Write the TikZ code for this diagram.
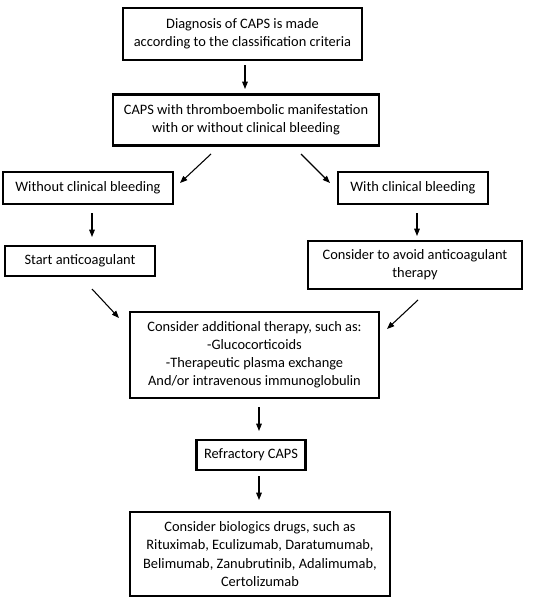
\documentclass[tikz,border=0pt]{standalone}
\usepackage{fontspec}
\setmainfont{Carlito}
\usetikzlibrary{arrows.meta}

\tikzset{every picture/.style={line width=0.75pt}}
\tikzset{capsbox/.style={draw, line width=2.1pt, align=center, font=\fontsize{10.8}{13.6}\selectfont, inner sep=2pt},
  flowarrow/.style={-{Triangle[length=5.5pt,width=4.2pt]}, line width=0.8pt}}

\begin{document}
\begin{tikzpicture}[x=0.75pt,y=0.75pt,yscale=-1,xscale=1]
\path[use as bounding box] (0,0) rectangle (550,603);

% Boxes
\node[capsbox, minimum width=239*0.75pt, minimum height=52*0.75pt] (diag) at (242.5,34) {Diagnosis of CAPS is made\\according to the classification criteria};
\node[capsbox, minimum width=266*0.75pt, minimum height=51*0.75pt] (thromb) at (246,120) {CAPS with thromboembolic manifestation\\with or without clinical bleeding};
\node[capsbox, minimum width=170*0.75pt, minimum height=32*0.75pt] (nobleed) at (88,188) {Without clinical bleeding};
\node[capsbox, minimum width=150*0.75pt, minimum height=32*0.75pt] (bleed) at (413,188) {With clinical bleeding};
\node[capsbox, minimum width=150*0.75pt, minimum height=30*0.75pt] (start) at (80,261) {Start anticoagulant};
\node[capsbox, minimum width=214*0.75pt, minimum height=48*0.75pt] (avoid) at (415,265) {Consider to avoid anticoagulant\\therapy};
\node[capsbox, minimum width=249*0.75pt, minimum height=86*0.75pt] (addit) at (254.5,355) {Consider additional therapy, such as:\\-Glucocorticoids\\-Therapeutic plasma exchange\\And/or intravenous immunoglobulin};
\node[capsbox, minimum width=109*0.75pt, minimum height=30*0.75pt] (refr) at (251,455) {Refractory CAPS};
\node[capsbox, minimum width=260*0.75pt, minimum height=84*0.75pt] (biolog) at (260,554) {Consider biologics drugs, such as\\Rituximab, Eculizumab, Daratumumab,\\Belimumab, Zanubrutinib, Adalimumab,\\Certolizumab};

% Arrow ends
\coordinate (a1s) at (245,65);  \coordinate (a1e) at (245,89);
\coordinate (a2s) at (211,154); \coordinate (a2e) at (180,183);
\coordinate (a3s) at (301,154); \coordinate (a3e) at (330,183);
\coordinate (a4s) at (92,213);  \coordinate (a4e) at (92,237);
\coordinate (a5s) at (417,213); \coordinate (a5e) at (417,236);
\coordinate (a6s) at (92,289);  \coordinate (a6e) at (119,318);
\coordinate (a7s) at (418,300); \coordinate (a7e) at (387,329);
\coordinate (a8s) at (259,407); \coordinate (a8e) at (259,431);
\coordinate (a9s) at (259,476); \coordinate (a9e) at (259,500);

%Straight Lines
\draw[flowarrow] (a1s) -- (a1e);
\draw[flowarrow] (a2s) -- (a2e);
\draw[flowarrow] (a3s) -- (a3e);
\draw[flowarrow] (a4s) -- (a4e);
\draw[flowarrow] (a5s) -- (a5e);
\draw[flowarrow] (a6s) -- (a6e);
\draw[flowarrow] (a7s) -- (a7e);
\draw[flowarrow] (a8s) -- (a8e);
\draw[flowarrow] (a9s) -- (a9e);

\end{tikzpicture}
\end{document}
